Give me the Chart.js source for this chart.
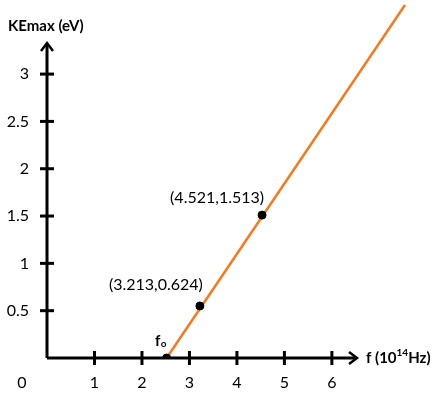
<!DOCTYPE html><html><head><style>body{margin:0;background:#fff}</style>
<script src="https://cdn.jsdelivr.net/npm/chart.js"></script></head><body>
<canvas id="c" width="448" height="414"></canvas>
<script>
const xTicks=[1,2,3,4,5,6];
const yTicks=[0.5,1,1.5,2,2.5,3];
const yTickLabels=["0.5","1","1.5","2","2.5","3"];
const lineX=[2.52,7.54];
const lineY=[0,3.73];
const ptX=[2.52,3.22,4.53];
const ptY=[0,0.55,1.51];
const ptLabels=["f\u2080","(3.213,0.624)","(4.521,1.513)"];
const F="Lato, 'Open Sans', sans-serif";
const deco={id:'deco',afterDatasetsDraw(ch){
 const c=ch.ctx,x=ch.scales.x,y=ch.scales.y;
 const x0=x.getPixelForValue(0),y0=y.getPixelForValue(0);
 c.save();c.strokeStyle='#000';c.fillStyle='#000';c.lineWidth=3;
 c.beginPath();c.moveTo(x0,y0);c.lineTo(356,y0);c.moveTo(x0,y0);c.lineTo(x0,44);c.stroke();
 c.lineWidth=2.5;c.beginPath();c.moveTo(349,y0-6);c.lineTo(357,y0);c.lineTo(349,y0+6);
 c.moveTo(x0-6,51);c.lineTo(x0,43);c.lineTo(x0+6,51);c.stroke();
 c.lineWidth=3;c.font="16px "+F;
 xTicks.forEach(v=>{const p=x.getPixelForValue(v);c.beginPath();c.moveTo(p,y0-7);c.lineTo(p,y0+7);c.stroke();
  c.textAlign='center';c.textBaseline='middle';c.fillText(String(v),p,383);});
 yTicks.forEach((v,i)=>{const p=y.getPixelForValue(v);c.beginPath();c.moveTo(x0-7,p);c.lineTo(x0+7,p);c.stroke();
  c.textAlign='right';c.textBaseline='middle';c.fillText(yTickLabels[i],29,p);});
 c.textAlign='center';c.fillText('0',22,383);
 c.textAlign='left';c.font="bold 15px "+F;c.fillText('KEmax (eV)',8,26);
 c.fillText('f (10',366,358);const w=c.measureText('f (10').width;
 c.font="bold 10px "+F;c.fillText('14',366+w,353);const w2=c.measureText('14').width;
 c.font="bold 15px "+F;c.fillText('Hz)',366+w+w2,358);
 c.font="16px "+F;c.textAlign='center';
 c.fillText(ptLabels[1],x.getPixelForValue(ptX[1])-44,y.getPixelForValue(ptY[1])-21);
 c.fillText(ptLabels[2],x.getPixelForValue(ptX[2])-45,y.getPixelForValue(ptY[2])-17);
 c.font="bold 15px "+F;c.fillText('f',x.getPixelForValue(ptX[0])-9,y.getPixelForValue(0)-17);
 c.font="bold 10px "+F;c.fillText('o',x.getPixelForValue(ptX[0])-3,y.getPixelForValue(0)-14);
 c.restore();}};
new Chart(document.getElementById('c'),{type:'scatter',
 data:{datasets:[
  {data:ptX.map((v,i)=>({x:v,y:ptY[i]})),showLine:false,pointRadius:4,pointBackgroundColor:'#000',pointBorderColor:'#000',order:0},
  {data:lineX.map((v,i)=>({x:v,y:lineY[i]})),showLine:true,borderColor:'#f47a20',borderWidth:2.5,pointRadius:0,clip:false,order:1}]},
 options:{responsive:false,animation:false,layout:{padding:{left:47,right:43,top:0,bottom:56}},
  plugins:{legend:{display:false},tooltip:{enabled:false}},
  scales:{x:{type:'linear',min:0,max:7.54,display:false},y:{type:'linear',min:0,max:3.73,display:false}}},
 plugins:[deco]});
</script></body></html>
